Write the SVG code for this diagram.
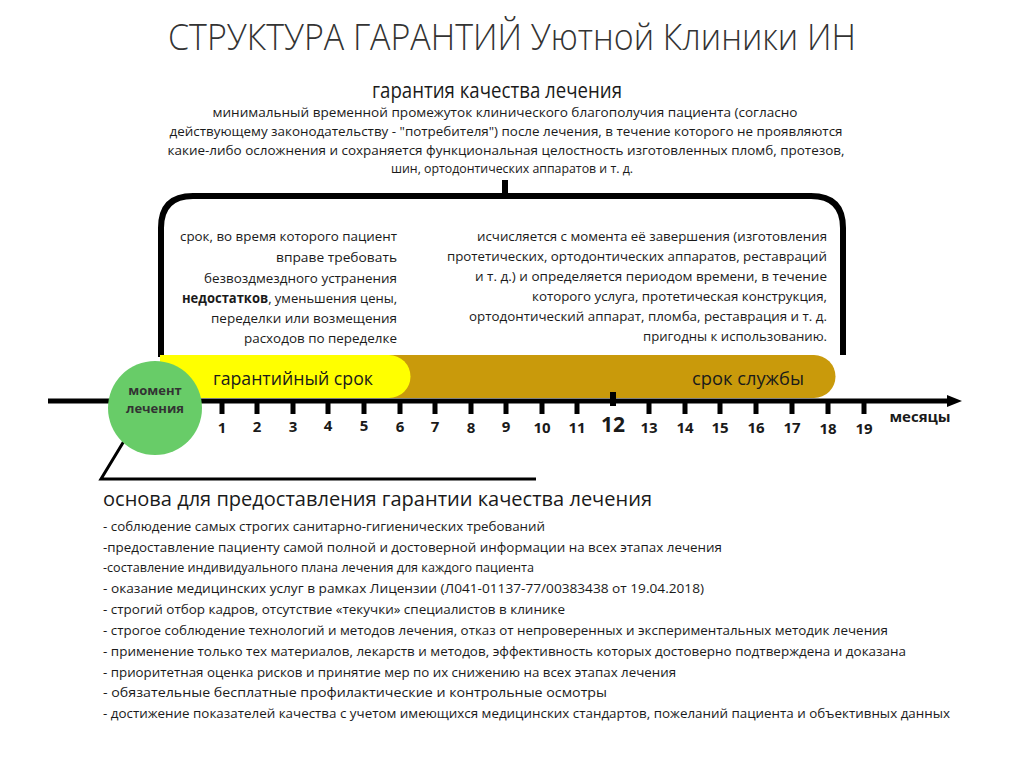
<svg xmlns="http://www.w3.org/2000/svg" width="1024" height="769" viewBox="0 0 1024 769">
<style>
text{font-family:"Open Sans","Noto Sans","Liberation Sans",sans-serif;fill:#1a1a1a}
.p{font-size:13.5px}
.r{font-size:13.5px;text-anchor:end}
.c{text-anchor:middle}
.n{font-size:15px;font-weight:bold;text-anchor:middle}
.li{font-size:13px}
.ln{fill:none;stroke:#000}
</style>
<rect width="1024" height="769" fill="#fff"/>
<g id="title">
<text x="512" y="50" class="c" font-size="36" font-weight="300" style="fill:#333" textLength="688" lengthAdjust="spacingAndGlyphs">СТРУКТУРА ГАРАНТИЙ Уютной Клиники ИН</text>
</g>
<g id="quality">
<text x="497" y="98" class="c" font-size="21" textLength="250" lengthAdjust="spacingAndGlyphs">гарантия качества лечения</text>
<text x="505" y="117" class="p c" textLength="585" lengthAdjust="spacingAndGlyphs">минимальный временной промежуток клинического благополучия пациента (согласно</text>
<text x="506" y="136" class="p c" textLength="673" lengthAdjust="spacingAndGlyphs">действующему законодательству - "потребителя") после лечения, в течение которого не проявляются</text>
<text x="506" y="155" class="p c" textLength="677" lengthAdjust="spacingAndGlyphs">какие-либо осложнения и сохраняется функциональная целостность изготовленных пломб, протезов,</text>
<text x="512" y="173" class="p c" textLength="242" lengthAdjust="spacingAndGlyphs">шин, ортодонтических аппаратов и т. д.</text>
</g>
<g id="bracket">
<path class="ln" stroke-width="6" d="M161,357 V228 Q161,196 193,196 H811 Q843,196 843,228 V355"/>
<line class="ln" stroke-width="6" x1="505" y1="180" x2="505" y2="196"/>
</g>
<g id="warranty-text">
<text x="397" y="241" class="r" textLength="217" lengthAdjust="spacingAndGlyphs">срок, во время которого пациент</text>
<text x="397" y="262" class="r" textLength="121" lengthAdjust="spacingAndGlyphs">вправе требовать</text>
<text x="397" y="283" class="r" textLength="193" lengthAdjust="spacingAndGlyphs">безвоздмездного устранения</text>
<text x="397" y="303" class="r" textLength="215" lengthAdjust="spacingAndGlyphs"><tspan font-weight="bold">недостатков</tspan>, уменьшения цены,</text>
<text x="397" y="323" class="r" textLength="186" lengthAdjust="spacingAndGlyphs">переделки или возмещения</text>
<text x="397" y="343" class="r" textLength="153" lengthAdjust="spacingAndGlyphs">расходов по переделке</text>
</g>
<g id="service-text">
<text x="827" y="241" class="r" textLength="350" lengthAdjust="spacingAndGlyphs">исчисляется с момента её завершения (изготовления</text>
<text x="827" y="261" class="r" textLength="380" lengthAdjust="spacingAndGlyphs">протетических, ортодонтических аппаратов, реставраций</text>
<text x="827" y="281" class="r" textLength="352" lengthAdjust="spacingAndGlyphs">и т. д.) и определяется периодом времени, в течение</text>
<text x="827" y="301" class="r" textLength="295" lengthAdjust="spacingAndGlyphs">которого услуга, протетическая конструкция,</text>
<text x="827" y="321" class="r" textLength="358" lengthAdjust="spacingAndGlyphs">ортодонтический аппарат, пломба, реставрация и т. д.</text>
<text x="827" y="341" class="r" textLength="184" lengthAdjust="spacingAndGlyphs">пригодны к использованию.</text>
</g>
<g id="service-life">
<path d="M160,355 H814 A21.5,21.5 0 0 1 814,398 H160 Z" fill="#c99a0b"/>
<text x="748" y="385" class="c" font-size="19" textLength="112" lengthAdjust="spacingAndGlyphs">срок службы</text>
</g>
<g id="warranty-period">
<path d="M160,355 H389 A21.5,21.5 0 0 1 389,398 H160 Z" fill="#ffff00"/>
<text x="293" y="385" class="c" font-size="19" textLength="160" lengthAdjust="spacingAndGlyphs">гарантийный срок</text>
</g>
<g id="connectors">
<line class="ln" stroke-width="5" x1="48" y1="401" x2="950" y2="401"/>
<polygon points="947,395 962,401 947,407" fill="#000"/>
<polyline class="ln" stroke-width="3" points="124,441 101,479 536,479"/>
</g>
<g id="ticks" fill="#000">
<rect x="219.5" y="401" width="5" height="13"/>
<rect x="254.5" y="401" width="5" height="13"/>
<rect x="290.5" y="401" width="5" height="13"/>
<rect x="325.5" y="401" width="5" height="13"/>
<rect x="361.5" y="401" width="5" height="13"/>
<rect x="397.5" y="401" width="5" height="13"/>
<rect x="432.5" y="401" width="5" height="13"/>
<rect x="468.5" y="401" width="5" height="13"/>
<rect x="503.5" y="401" width="5" height="13"/>
<rect x="539.5" y="401" width="5" height="13"/>
<rect x="574.5" y="401" width="5" height="13"/>
<rect x="610" y="392" width="6" height="14"/>
<rect x="646.5" y="401" width="5" height="13"/>
<rect x="682.5" y="401" width="5" height="13"/>
<rect x="717.5" y="401" width="5" height="13"/>
<rect x="753.5" y="401" width="5" height="13"/>
<rect x="789.5" y="401" width="5" height="13"/>
<rect x="825.5" y="401" width="5" height="13"/>
<rect x="861.5" y="401" width="5" height="13"/>
</g>
<g id="tick-labels">
<text x="222" y="433" class="n">1</text>
<text x="257" y="432" class="n">2</text>
<text x="293" y="432" class="n">3</text>
<text x="328" y="431" class="n">4</text>
<text x="364" y="431" class="n">5</text>
<text x="400" y="432" class="n">6</text>
<text x="435" y="432" class="n">7</text>
<text x="471" y="433" class="n">8</text>
<text x="506" y="432" class="n">9</text>
<text x="542" y="433" class="n">10</text>
<text x="577" y="433" class="n">11</text>
<text x="613" y="432" class="n" style="font-size:21px">12</text>
<text x="649" y="433" class="n">13</text>
<text x="685" y="433" class="n">14</text>
<text x="720" y="433" class="n">15</text>
<text x="756" y="433" class="n">16</text>
<text x="792" y="433" class="n">17</text>
<text x="828" y="434" class="n">18</text>
<text x="864" y="434" class="n">19</text>
<text x="920" y="422" class="n">месяцы</text>
</g>
<g id="moment">
<circle cx="155" cy="408" r="47" fill="#68cc68"/>
<text x="155" y="395" class="c" font-size="13" font-weight="bold" style="fill:#333">момент</text>
<text x="155" y="413" class="c" font-size="13" font-weight="bold" style="fill:#333">лечения</text>
</g>
<g id="basis">
<text x="103" y="506" font-size="20" textLength="549" lengthAdjust="spacingAndGlyphs">основа для предоставления гарантии качества лечения</text>
<text x="103" y="531" class="li" textLength="442" lengthAdjust="spacingAndGlyphs">- соблюдение самых строгих санитарно-гигиенических требований</text>
<text x="103" y="552" class="li" textLength="619" lengthAdjust="spacingAndGlyphs">-предоставление пациенту самой полной и достоверной информации на всех этапах лечения</text>
<text x="103" y="572" class="li" textLength="431" lengthAdjust="spacingAndGlyphs">-составление индивидуального плана лечения для каждого пациента</text>
<text x="103" y="593" class="li" textLength="601" lengthAdjust="spacingAndGlyphs">- оказание медицинских услуг в рамках Лицензии (Л041-01137-77/00383438 от 19.04.2018)</text>
<text x="103" y="614" class="li" textLength="462" lengthAdjust="spacingAndGlyphs">- строгий отбор кадров, отсутствие «текучки» специалистов в клинике</text>
<text x="103" y="635" class="li" textLength="785" lengthAdjust="spacingAndGlyphs">- строгое соблюдение технологий и методов лечения, отказ от непроверенных и экспериментальных методик лечения</text>
<text x="103" y="656" class="li" textLength="803" lengthAdjust="spacingAndGlyphs">- применение только тех материалов, лекарств и методов, эффективность которых достоверно подтверждена и доказана</text>
<text x="103" y="677" class="li" textLength="573" lengthAdjust="spacingAndGlyphs">- приоритетная оценка рисков и принятие мер по их снижению на всех этапах лечения</text>
<text x="103" y="697" class="li" textLength="504" lengthAdjust="spacingAndGlyphs">- обязательные бесплатные профилактические и контрольные осмотры</text>
<text x="103" y="718" class="li" textLength="847" lengthAdjust="spacingAndGlyphs">- достижение показателей качества с учетом имеющихся медицинских стандартов, пожеланий пациента и объективных данных</text>
</g>
</svg>
